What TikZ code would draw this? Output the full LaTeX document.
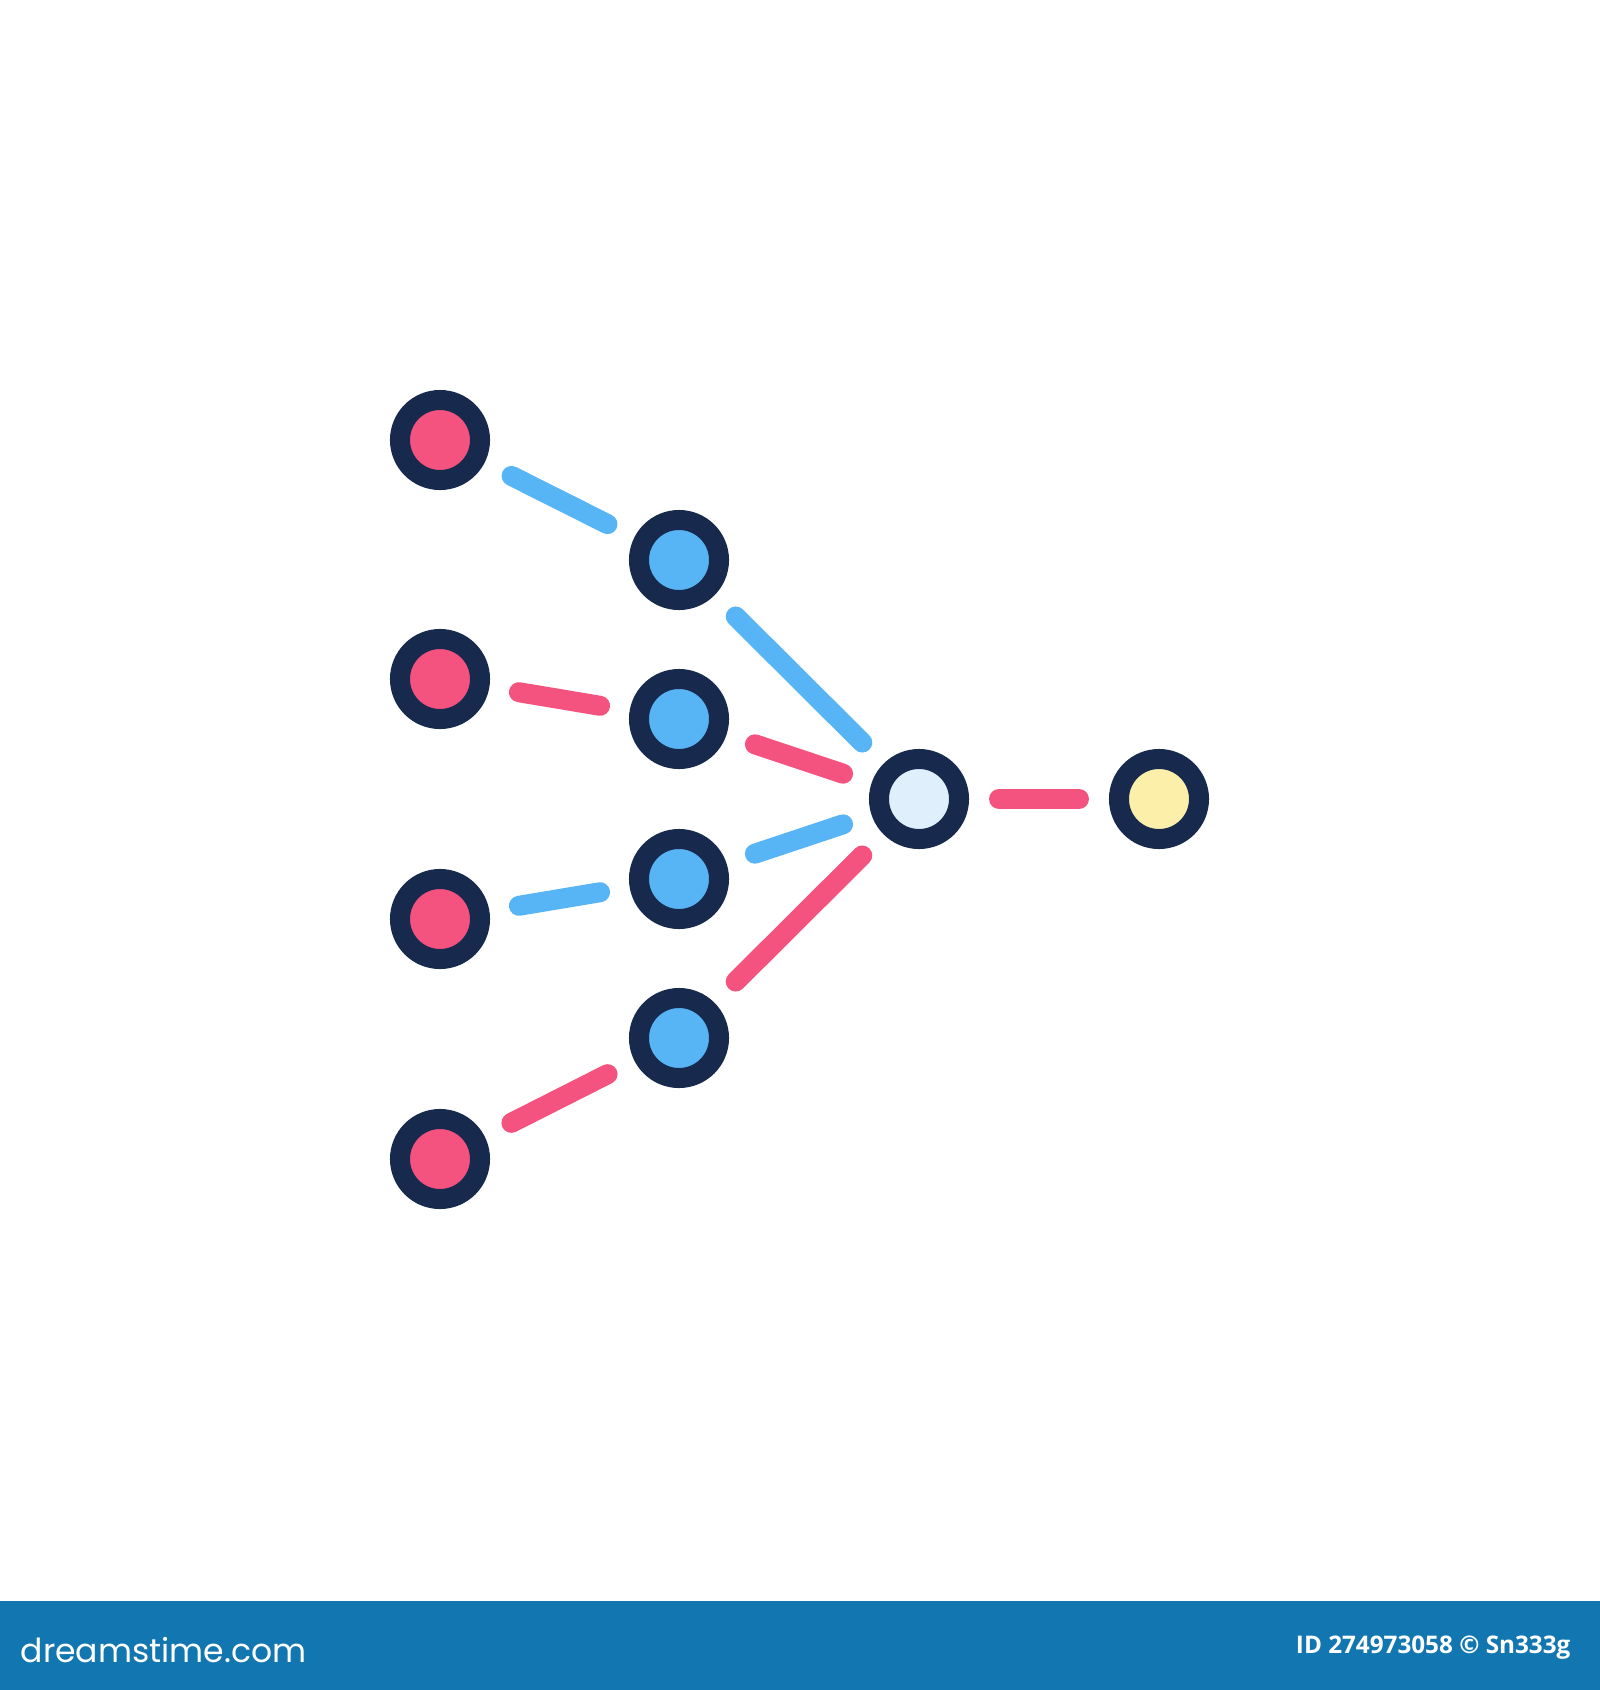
\documentclass[tikz,border=0pt]{standalone}
\usepackage{fontspec}
\newfontfamily\brandfont{Poppins}
\newfontfamily\idfont{Open Sans}
\definecolor{navy}{HTML}{17294D}
\definecolor{rosepink}{HTML}{F4527F}
\definecolor{skyblue}{HTML}{57B4F5}
\definecolor{paleblue}{HTML}{DFF0FC}
\definecolor{paleyellow}{HTML}{FCEFAA}
\definecolor{barblue}{HTML}{1277B0}

\begin{document}
\begin{tikzpicture}[x=0.01cm,y=-0.01cm,
    dot/.style={circle,draw=navy,line width=0.2cm,minimum size=0.8cm,inner sep=0pt},
    link/.style={line width=0.2cm,line cap=round,shorten <=0.3cm,shorten >=0.3cm}]
  \useasboundingbox (0,0) rectangle (1600,1690);
  \fill[barblue] (0,1601) rectangle (1600,1690);

  % input column
  \node[dot,fill=rosepink] (in1) at (440,440) {};
  \node[dot,fill=rosepink] (in2) at (440,679) {};
  \node[dot,fill=rosepink] (in3) at (440,919) {};
  \node[dot,fill=rosepink] (in4) at (440,1159) {};
  % hidden column
  \node[dot,fill=skyblue] (hid1) at (679,560) {};
  \node[dot,fill=skyblue] (hid2) at (679,719) {};
  \node[dot,fill=skyblue] (hid3) at (679,879) {};
  \node[dot,fill=skyblue] (hid4) at (679,1038) {};
  % merge and output
  \node[dot,fill=paleblue] (merge) at (919,799) {};
  \node[dot,fill=paleyellow] (out) at (1159,799) {};

  \draw[link,skyblue] (in1) -- (hid1);
  \draw[link,rosepink] (in2) -- (hid2);
  \draw[link,skyblue] (in3) -- (hid3);
  \draw[link,rosepink] (in4) -- (hid4);
  \draw[link,skyblue] (hid1) -- (merge);
  \draw[link,rosepink] (hid2) -- (merge);
  \draw[link,skyblue] (hid3) -- (merge);
  \draw[link,rosepink] (hid4) -- (merge);
  \draw[link,rosepink] (merge) -- (out);

  \node[anchor=base west,inner sep=0pt,text=white,font=\brandfont\fontsize{9.4}{10}\selectfont] (brand) at (20,1662) {dreamstime.com};
  \node[anchor=base east,inner sep=0pt,text=white,font=\idfont\bfseries\fontsize{6.9}{8}\selectfont] (imgid) at (1571,1653) {ID 274973058 © Sn333g};
\end{tikzpicture}
\end{document}
